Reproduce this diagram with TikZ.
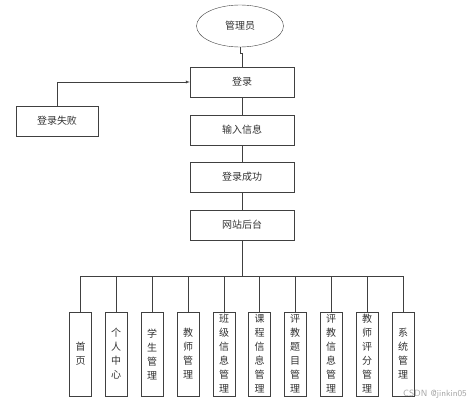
\documentclass[tikz,border=0pt]{standalone}
\usepackage{fontspec}
\newfontfamily\cjk{Noto Sans CJK SC}
\usetikzlibrary{shapes.geometric}
\begin{document}
\begin{tikzpicture}[x=1pt,y=-1pt,
    box/.style={draw=black!75,minimum width=104pt,minimum height=30pt,inner sep=0pt,text=black!80,font=\cjk\fontsize{10}{12}\selectfont},
    vbox/.style={draw=black!75,minimum width=22pt,minimum height=84pt,inner sep=0pt,align=center,text=black!80,font=\cjk\fontsize{10}{14}\selectfont},
    link/.style={draw=black!75}]
    \useasboundingbox (0,0) rectangle (474,404);
    % main column
    \node[ellipse,draw=black!75,minimum width=87pt,minimum height=42pt,inner sep=0pt,text=black!80,font=\cjk\fontsize{10}{12}\selectfont] (admin) at (240,26) {管理员};
    \node[box] (login) at (242,82) {登录};
    \node[box] (input) at (242,130) {输入信息};
    \node[box] (ok) at (242,177) {登录成功};
    \node[box] (site) at (242,225) {网站后台};
    \node[box,minimum width=82pt] (fail) at (57,121) {登录失败};
    % modules
    \node[vbox] (m1) at (80.5,354) {首\\页};
    \node[vbox] (m2) at (116,354) {个\\人\\中\\心};
    \node[vbox] (m3) at (152,354) {学\\生\\管\\理};
    \node[vbox] (m4) at (188,354) {教\\师\\管\\理};
    \node[vbox] (m5) at (224,354) {班\\级\\信\\息\\管\\理};
    \node[vbox] (m6) at (259.5,354) {课\\程\\信\\息\\管\\理};
    \node[vbox] (m7) at (295,354) {评\\教\\题\\目\\管\\理};
    \node[vbox] (m8) at (331,354) {评\\教\\信\\息\\管\\理};
    \node[vbox] (m9) at (367,354) {教\\师\\评\\分\\管\\理};
    \node[vbox] (m10) at (403,354) {系\\统\\管\\理};
    \coordinate (bus) at (242,276);
    % connectors
    \draw[link] (admin.south) -- ++(0,6) -| (login.north);
    \draw[link] (login) -- (input);
    \draw[link] (input) -- (ok);
    \draw[link] (ok) -- (site);
    \draw[link,-latex] (fail.north) |- (login.west);
    \draw[link] (site.south) -- (bus);
    \draw[link] (m1.north |- bus) -- (m10.north |- bus);
    \foreach \i in {1,...,10}
        \draw[link] (m\i.north |- bus) -- (m\i.north);
    \node[text=black!35,font=\sffamily\fontsize{9}{10}\selectfont] (mark) at (435,394) {CSDN @jinkin05};
\end{tikzpicture}
\end{document}
